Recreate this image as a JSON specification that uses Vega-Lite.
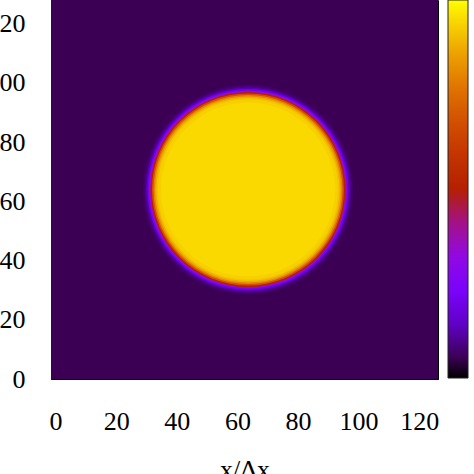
{
  "$schema": "https://vega.github.io/schema/vega-lite/v6.json",
  "width": 387,
  "height": 379,
  "autosize": {"type": "none"},
  "padding": {"left": 51, "top": 0, "right": 36, "bottom": 95},
  "background": "white",
  "config": {
    "view": {"stroke": "#000", "strokeWidth": 1},
    "font": "Liberation Serif"
  },
  "data": {
    "values": [
      {"x": 63.5, "y": 64, "r": 150, "v": 0},
      {"x": 63.5, "y": 64, "r": 35, "v": 0.015},
      {"x": 63.5, "y": 64, "r": 34.5, "v": 0.035},
      {"x": 63.5, "y": 64, "r": 34, "v": 0.076},
      {"x": 63.5, "y": 64, "r": 33.5, "v": 0.16},
      {"x": 63.5, "y": 64, "r": 33, "v": 0.3},
      {"x": 63.5, "y": 64, "r": 32.5, "v": 0.5},
      {"x": 63.5, "y": 64, "r": 32, "v": 0.7},
      {"x": 63.5, "y": 64, "r": 31.5, "v": 0.84},
      {"x": 63.5, "y": 64, "r": 31, "v": 0.92},
      {"x": 63.5, "y": 64, "r": 30.5, "v": 0.965},
      {"x": 63.5, "y": 64, "r": 30, "v": 0.985},
      {"x": 63.5, "y": 64, "r": 29, "v": 1.0}
    ]
  },
  "layer": [
    {
      "mark": {"type": "point", "filled": true, "opacity": 1, "strokeWidth": 0, "clip": true},
      "encoding": {
        "x": {
          "field": "x", "type": "quantitative",
          "scale": {"domain": [-1.5, 126.2], "nice": false, "zero": false},
          "axis": {
            "values": [0, 20, 40, 60, 80, 100, 120],
            "tickSize": -8, "tickColor": "#000", "domain": false, "grid": false,
            "labelFont": "Liberation Serif", "labelFontSize": 26, "labelColor": "#000",
            "labelPadding": 37, "labelFlush": false, "labelOverlap": false,
            "title": "x/Δx", "titleFont": "Liberation Serif", "titleFontSize": 26,
            "titleFontWeight": "normal", "titleColor": "#000", "titleY": 98, "titleBaseline": "alphabetic"
          }
        },
        "y": {
          "field": "y", "type": "quantitative",
          "scale": {"domain": [0, 128], "nice": false, "zero": false},
          "axis": {
            "values": [0, 20, 40, 60, 80, 100, 120],
            "tickSize": -8, "tickColor": "#000", "domain": false, "grid": false,
            "labelFont": "Liberation Serif", "labelFontSize": 26, "labelColor": "#000",
            "labelPadding": 34, "labelFlush": false, "labelOverlap": false,
            "title": null
          }
        },
        "size": {
          "field": "r", "type": "quantitative",
          "scale": {"type": "pow", "exponent": 2, "domain": [0, 150], "range": [0, 810000]},
          "legend": null
        },
        "color": {
          "field": "v", "type": "quantitative",
          "scale": {
            "domain": [-0.06, 1.06],
            "interpolate": "rgb",
            "range": ["#000000", "#39004f", "#510096", "#6301ce", "#7202f3", "#8004ff", "#8c07f3", "#970bce", "#a11096", "#ab174f", "#b42000", "#bd2a00", "#c63700", "#ce4600", "#d55700", "#dd6c00", "#e48300", "#eb9d00", "#f2ba00", "#f9db00", "#ffff00"]
          },
          "legend": {
            "orient": "none", "legendX": 397, "legendY": 0, "direction": "vertical",
            "gradientLength": 378, "gradientThickness": 20, "title": null,
            "labelOpacity": 0, "labelFontSize": 1,
            "gradientStrokeColor": "#222", "gradientStrokeWidth": 1
          }
        },
        "order": {"field": "r", "type": "quantitative", "sort": "descending"}
      }
    },
    {
      "mark": {"type": "point", "opacity": 0},
      "encoding": {
        "x": {
          "field": "x", "type": "quantitative",
          "axis": {"orient": "top", "values": [0, 20, 40, 60, 80, 100, 120], "tickSize": -8, "tickColor": "#000", "labels": false, "domain": false, "grid": false, "title": null}
        },
        "y": {
          "field": "y", "type": "quantitative",
          "axis": {"orient": "right", "values": [0, 20, 40, 60, 80, 100, 120], "tickSize": -8, "tickColor": "#000", "labels": false, "domain": false, "grid": false, "title": null}
        }
      }
    }
  ],
  "resolve": {"axis": {"x": "independent", "y": "independent"}}
}
